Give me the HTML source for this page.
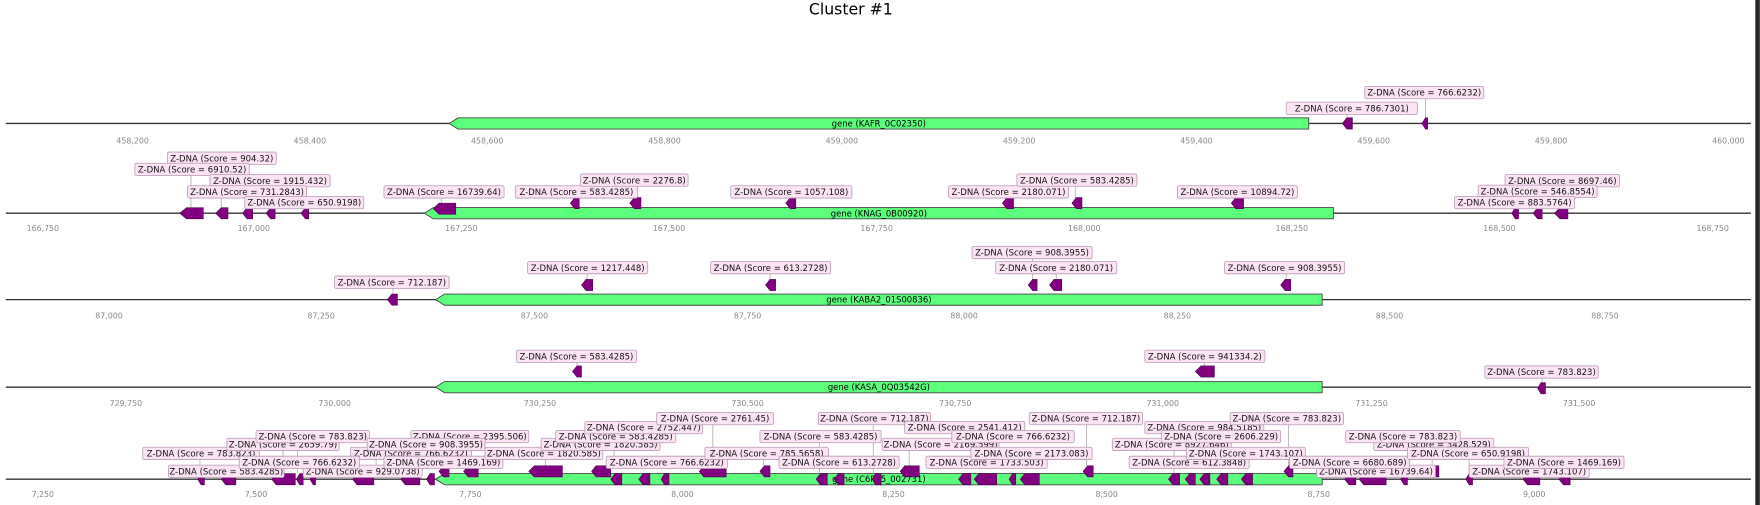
<!DOCTYPE html>
<html><head><meta charset="utf-8"><style>
html,body{margin:0;padding:0;background:#fff;overflow:hidden}
svg{display:block}
.ln{stroke:#333;stroke-width:1.2}
.g{fill:#5cff7c;stroke:#444;stroke-width:0.8}
.gt{font:7.5px "DejaVu Sans","Liberation Sans",sans-serif;fill:#000;text-anchor:middle}
.f{fill:#800080;stroke:#4a004a;stroke-width:0.5}
.lb rect{fill:#fce4f5;stroke:#b59ab5;stroke-width:0.7;transform:translateY(-0.5px);height:11px}
.lb text{font:7.6px "DejaVu Sans","Liberation Sans",sans-serif;fill:#111;text-anchor:middle}
.tk text{font:7px "DejaVu Sans","Liberation Sans",sans-serif;fill:#888;text-anchor:middle}
.c{stroke:#aaa;stroke-width:0.7}
</style></head><body>
<svg width="1760" height="505" viewBox="0 0 1568 450" xmlns="http://www.w3.org/2000/svg">
<rect x="1564" y="0" width="4" height="450" fill="#222"/>
<text x="758" y="13" style="font:14px 'DejaVu Sans','Liberation Sans',sans-serif;text-anchor:middle" fill="#000">Cluster #1</text>

<!-- Track 1 -->
<line class="ln" x1="5" y1="110" x2="1560" y2="110"/>
<polygon class="g" points="400,110 408,105 1166,105 1166,115 408,115"/>
<text class="gt" x="783" y="112.7">gene (KAFR_0C02350)</text>
<g class="tk">
<text x="118" y="128">458,200</text><text x="276" y="128">458,400</text><text x="434" y="128">458,600</text><text x="592" y="128">458,800</text><text x="750" y="128">459,000</text><text x="908" y="128">459,200</text><text x="1066" y="128">459,400</text><text x="1224" y="128">459,600</text><text x="1382" y="128">459,800</text><text x="1540" y="128">460,000</text>
</g>
<line class="c" x1="1200" y1="102" x2="1200" y2="105"/><line class="c" x1="1270" y1="88" x2="1270" y2="105"/>
<polygon class="f" points="1196,110 1200,105 1205,105 1205,115 1200,115"/>
<polygon class="f" points="1267,110 1270,105 1272,105 1272,115 1270,115"/>
<g class="lb">
<rect x="1146" y="91.5" width="117" height="10" rx="1.5"/><text x="1204.5" y="99.3">Z-DNA (Score = 786.7301)</text>
<rect x="1216" y="77.5" width="106" height="10" rx="1.5"/><text x="1269" y="85.3">Z-DNA (Score = 766.6232)</text>
</g>

<!-- Track 2 -->
<line class="ln" x1="5" y1="190" x2="1560" y2="190"/>
<polygon class="g" points="378,190 386,185 1188,185 1188,195 386,195"/>
<text class="gt" x="783" y="192.7">gene (KNAG_0B00920)</text>
<g class="tk">
<text x="38" y="206">166,750</text><text x="226" y="206">167,000</text><text x="411" y="206">167,250</text><text x="596" y="206">167,500</text><text x="781" y="206">167,750</text><text x="966" y="206">168,000</text><text x="1151" y="206">168,250</text><text x="1336" y="206">168,500</text><text x="1526" y="206">168,750</text>
</g>
<line class="c" x1="170" y1="151" x2="170" y2="185"/><line class="c" x1="197" y1="176" x2="197" y2="185"/><line class="c" x1="393" y1="176" x2="393" y2="185"/><line class="c" x1="565" y1="166" x2="565" y2="185"/><line class="c" x1="958" y1="166" x2="958" y2="185"/>
<polygon class="f" points="160,190 166,185 181,185 181,195 166,195"/>
<polygon class="f" points="192,190 197,185 203,185 203,195 197,195"/>
<polygon class="f" points="216,190 220,185 225,185 225,195 220,195"/>
<polygon class="f" points="237,190 241,185 245,185 245,195 241,195"/>
<polygon class="f" points="268,190 272,185 275,185 275,195 272,195"/>
<polygon class="f" points="386,186 391,181 406,181 406,191 391,191"/>
<polygon class="f" points="508,181 512,176 516,176 516,186 512,186"/>
<polygon class="f" points="561,181 565,176 571,176 571,186 565,186"/>
<polygon class="f" points="700,181 704,176 709,176 709,186 704,186"/>
<polygon class="f" points="893,181 897,176 903,176 903,186 897,186"/>
<polygon class="f" points="955,181 959,176 964,176 964,186 959,186"/>
<polygon class="f" points="1097,181 1101,176 1108,176 1108,186 1101,186"/>
<polygon class="f" points="1347,190 1350,185 1353,185 1353,195 1350,195"/>
<polygon class="f" points="1366,190 1370,185 1374,185 1374,195 1370,195"/>
<polygon class="f" points="1385,190 1390,185 1397,185 1397,195 1390,195"/>
<g class="lb">
<rect x="149" y="136" width="97" height="10" rx="1.5"/><text x="197.5" y="143.8">Z-DNA (Score = 904.32)</text>
<rect x="120" y="146" width="102" height="10" rx="1.5"/><text x="171" y="153.8">Z-DNA (Score = 6910.52)</text>
<rect x="187" y="156" width="107" height="10" rx="1.5"/><text x="240.5" y="163.8">Z-DNA (Score = 1915.432)</text>
<rect x="167" y="166" width="106" height="10" rx="1.5"/><text x="220" y="173.8">Z-DNA (Score = 731.2843)</text>
<rect x="218" y="175.5" width="106" height="10" rx="1.5"/><text x="271" y="183.3">Z-DNA (Score = 650.9198)</text>
<rect x="342" y="166" width="107" height="10" rx="1.5"/><text x="395.5" y="173.8">Z-DNA (Score = 16739.64)</text>
<rect x="459" y="166" width="109" height="10" rx="1.5"/><text x="513.5" y="173.8">Z-DNA (Score = 583.4285)</text>
<rect x="517" y="155.5" width="96" height="10" rx="1.5"/><text x="565" y="163.3">Z-DNA (Score = 2276.8)</text>
<rect x="651" y="166" width="108" height="10" rx="1.5"/><text x="705" y="173.8">Z-DNA (Score = 1057.108)</text>
<rect x="845" y="166" width="107" height="10" rx="1.5"/><text x="898.5" y="173.8">Z-DNA (Score = 2180.071)</text>
<rect x="906" y="155.5" width="107" height="10" rx="1.5"/><text x="959.5" y="163.3">Z-DNA (Score = 583.4285)</text>
<rect x="1049" y="166" width="107" height="10" rx="1.5"/><text x="1102.5" y="173.8">Z-DNA (Score = 10894.72)</text>
<rect x="1341" y="156" width="102" height="10" rx="1.5"/><text x="1392" y="163.8">Z-DNA (Score = 8697.46)</text>
<rect x="1317" y="165.5" width="106" height="10" rx="1.5"/><text x="1370" y="173.3">Z-DNA (Score = 546.8554)</text>
<rect x="1296" y="175.5" width="107" height="10" rx="1.5"/><text x="1349.5" y="183.3">Z-DNA (Score = 883.5764)</text>
</g>

<!-- Track 3 -->
<line class="ln" x1="5" y1="267" x2="1560" y2="267"/>
<polygon class="g" points="388,267 396,262 1178,262 1178,272 396,272"/>
<text class="gt" x="783" y="269.7">gene (KABA2_01S00836)</text>
<g class="tk">
<text x="97" y="284">87,000</text><text x="286" y="284">87,250</text><text x="476" y="284">87,500</text><text x="666" y="284">87,750</text><text x="859" y="284">88,000</text><text x="1049" y="284">88,250</text><text x="1238" y="284">88,500</text><text x="1430" y="284">88,750</text>
</g>
<line class="c" x1="350" y1="257" x2="350" y2="262"/><line class="c" x1="523" y1="244" x2="523" y2="249"/><line class="c" x1="686" y1="244" x2="686" y2="249"/><line class="c" x1="920" y1="230" x2="920" y2="249"/><line class="c" x1="941" y1="244" x2="941" y2="249"/><line class="c" x1="1146" y1="244" x2="1146" y2="249"/>
<polygon class="f" points="345,267 349,262 354,262 354,272 349,272"/>
<polygon class="f" points="518,254 522,249 528,249 528,259 522,259"/>
<polygon class="f" points="682,254 686,249 691,249 691,259 686,259"/>
<polygon class="f" points="916,254 920,249 924,249 924,259 920,259"/>
<polygon class="f" points="935,254 939,249 946,249 946,259 939,259"/>
<polygon class="f" points="1141,254 1145,249 1150,249 1150,259 1145,259"/>
<g class="lb">
<rect x="298" y="246.5" width="102" height="10" rx="1.5"/><text x="349" y="254.3">Z-DNA (Score = 712.187)</text>
<rect x="470" y="233.5" width="107" height="10" rx="1.5"/><text x="523.5" y="241.3">Z-DNA (Score = 1217.448)</text>
<rect x="633" y="233.5" width="107" height="10" rx="1.5"/><text x="686.5" y="241.3">Z-DNA (Score = 613.2728)</text>
<rect x="866" y="220" width="107" height="10" rx="1.5"/><text x="919.5" y="227.8">Z-DNA (Score = 908.3955)</text>
<rect x="887" y="233.5" width="108" height="10" rx="1.5"/><text x="941" y="241.3">Z-DNA (Score = 2180.071)</text>
<rect x="1091" y="233.5" width="107" height="10" rx="1.5"/><text x="1144.5" y="241.3">Z-DNA (Score = 908.3955)</text>
</g>

<!-- Track 4 -->
<line class="ln" x1="5" y1="345" x2="1560" y2="345"/>
<polygon class="g" points="388,345 396,340 1178,340 1178,350 396,350"/>
<text class="gt" x="783" y="347.7">gene (KASA_0Q03542G)</text>
<g class="tk">
<text x="112" y="362">729,750</text><text x="298" y="362">730,000</text><text x="481" y="362">730,250</text><text x="666" y="362">730,500</text><text x="851" y="362">730,750</text><text x="1036" y="362">731,000</text><text x="1222" y="362">731,250</text><text x="1407" y="362">731,500</text>
</g>
<line class="c" x1="514" y1="323" x2="514" y2="326"/><line class="c" x1="1073" y1="323" x2="1073" y2="326"/><line class="c" x1="1374" y1="337" x2="1374" y2="340"/>
<polygon class="f" points="510,331 514,326 518,326 518,336 514,336"/>
<polygon class="f" points="1065,331 1070,326 1082,326 1082,336 1070,336"/>
<polygon class="f" points="1370,346 1373,341 1377,341 1377,351 1373,351"/>
<g class="lb">
<rect x="460" y="312.5" width="107" height="10" rx="1.5"/><text x="513.5" y="320.3">Z-DNA (Score = 583.4285)</text>
<rect x="1020" y="312.5" width="107" height="10" rx="1.5"/><text x="1073.5" y="320.3">Z-DNA (Score = 941334.2)</text>
<rect x="1323" y="326.5" width="101" height="10" rx="1.5"/><text x="1373.5" y="334.3">Z-DNA (Score = 783.823)</text>
</g>

<!-- Track 5 -->
<line class="ln" x1="5" y1="427" x2="1560" y2="427"/>
<polygon class="g" points="388,427 396,422 1178,422 1178,432 396,432"/>
<text class="gt" x="783" y="429.7">gene (C6P45_002731)</text>
<g class="tk">
<text x="38" y="443">7,250</text><text x="228" y="443">7,500</text><text x="419" y="443">7,750</text><text x="608" y="443">8,000</text><text x="796" y="443">8,250</text><text x="986" y="443">8,500</text><text x="1175" y="443">8,750</text><text x="1367" y="443">9,000</text>
</g>
<g class="c">
<line x1="178" y1="409" x2="178" y2="422"/><line x1="252" y1="394" x2="252" y2="422"/><line x1="265" y1="401" x2="265" y2="422"/><line x1="335" y1="409" x2="335" y2="422"/><line x1="365" y1="409" x2="365" y2="422"/><line x1="418" y1="394" x2="418" y2="415"/><line x1="486" y1="401" x2="486" y2="415"/><line x1="547" y1="386" x2="547" y2="415"/><line x1="635" y1="378" x2="635" y2="415"/><line x1="680" y1="409" x2="680" y2="415"/><line x1="730" y1="394" x2="730" y2="422"/><line x1="778" y1="378" x2="778" y2="422"/><line x1="810" y1="401" x2="810" y2="415"/><line x1="968" y1="378" x2="968" y2="415"/><line x1="1046" y1="401" x2="1046" y2="422"/><line x1="1148" y1="378" x2="1148" y2="415"/><line x1="1276" y1="409" x2="1276" y2="415"/><line x1="1309" y1="409" x2="1309" y2="422"/>
</g>
<polygon class="f" points="176,427 179,422 182,422 182,432 179,432"/>
<polygon class="f" points="197,427 201,422 210,422 210,432 201,432"/>
<polygon class="f" points="242,427 246,422 263,422 263,432 246,432"/>
<polygon class="f" points="264,427 267,422 270,422 270,432 267,432"/>
<polygon class="f" points="276,427 279,422 281,422 281,432 279,432"/>
<polygon class="f" points="314,427 318,422 333,422 333,432 318,432"/>
<polygon class="f" points="357,427 361,422 374,422 374,432 361,432"/>
<polygon class="f" points="380,427 383,422 387,422 387,432 383,432"/>
<polygon class="f" points="391,420 395,415 400,415 400,425 395,425"/>
<polygon class="f" points="413,420 417,415 426,415 426,425 417,425"/>
<polygon class="f" points="471,420 476,415 501,415 501,425 476,425"/>
<polygon class="f" points="527,420 531,415 544,415 544,425 531,425"/>
<polygon class="f" points="544,427 548,422 554,422 554,432 548,432"/>
<polygon class="f" points="569,427 573,422 579,422 579,432 573,432"/>
<polygon class="f" points="589,427 592,422 596,422 596,432 592,432"/>
<polygon class="f" points="623,420 627,415 647,415 647,425 627,425"/>
<polygon class="f" points="677,420 681,415 686,415 686,425 681,425"/>
<polygon class="f" points="727,427 731,422 737,422 737,432 731,432"/>
<polygon class="f" points="743,427 747,422 752,422 752,432 747,432"/>
<polygon class="f" points="777,427 780,422 785,422 785,432 780,432"/>
<polygon class="f" points="802,420 806,415 819,415 819,425 806,425"/>
<polygon class="f" points="854,427 858,422 865,422 865,432 858,432"/>
<polygon class="f" points="868,427 872,422 888,422 888,432 872,432"/>
<polygon class="f" points="899,427 902,422 905,422 905,432 902,432"/>
<polygon class="f" points="909,427 913,422 926,422 926,432 913,432"/>
<polygon class="f" points="965,420 969,415 974,415 974,425 969,425"/>
<polygon class="f" points="1041,427 1045,422 1051,422 1051,432 1045,432"/>
<polygon class="f" points="1056,427 1060,422 1065,422 1065,432 1060,432"/>
<polygon class="f" points="1069,427 1073,422 1078,422 1078,432 1073,432"/>
<polygon class="f" points="1084,427 1088,422 1094,422 1094,432 1088,432"/>
<polygon class="f" points="1106,427 1110,422 1116,422 1116,432 1110,432"/>
<polygon class="f" points="1144,420 1148,415 1152,415 1152,425 1148,425"/>
<polygon class="f" points="1198,427 1202,422 1208,422 1208,432 1202,432"/>
<polygon class="f" points="1211,427 1215,422 1235,422 1235,432 1215,432"/>
<polygon class="f" points="1248,427 1251,422 1254,422 1254,432 1251,432"/>
<polygon class="f" points="1273,420 1277,415 1282,415 1282,425 1277,425"/>
<polygon class="f" points="1306,427 1309,422 1312,422 1312,432 1309,432"/>
<polygon class="f" points="1357,427 1361,422 1372,422 1372,432 1361,432"/>
<polygon class="f" points="1389,427 1393,422 1399,422 1399,432 1393,432"/>
<g class="lb">
<rect x="127" y="399" width="104" height="10" rx="1.5"/><text x="179" y="406.8">Z-DNA (Score = 783.823)</text>
<rect x="150" y="415" width="103" height="10" rx="1.5"/><text x="201.5" y="422.8">Z-DNA (Score = 583.4285)</text>
<rect x="202" y="391" width="100" height="10" rx="1.5"/><text x="252" y="398.8">Z-DNA (Score = 2659.79)</text>
<rect x="228" y="384" width="101" height="10" rx="1.5"/><text x="278.5" y="391.8">Z-DNA (Score = 783.823)</text>
<rect x="270" y="415" width="106" height="10" rx="1.5"/><text x="323" y="422.8">Z-DNA (Score = 929.0738)</text>
<rect x="312" y="399" width="108" height="10" rx="1.5"/><text x="366" y="406.8">Z-DNA (Score = 766.6232)</text>
<rect x="213" y="407" width="107" height="10" rx="1.5"/><text x="266.5" y="414.8">Z-DNA (Score = 766.6232)</text>
<rect x="366" y="384" width="105" height="10" rx="1.5"/><text x="418.5" y="391.8">Z-DNA (Score = 2395.506)</text>
<rect x="327" y="391" width="105" height="10" rx="1.5"/><text x="379.5" y="398.8">Z-DNA (Score = 908.3955)</text>
<rect x="342" y="407" width="106" height="10" rx="1.5"/><text x="395" y="414.8">Z-DNA (Score = 1469.169)</text>
<rect x="432" y="399" width="105" height="10" rx="1.5"/><text x="484.5" y="406.8">Z-DNA (Score = 1820.585)</text>
<rect x="482" y="391" width="106" height="10" rx="1.5"/><text x="535" y="398.8">Z-DNA (Score = 1820.585)</text>
<rect x="495" y="384" width="107" height="10" rx="1.5"/><text x="548.5" y="391.8">Z-DNA (Score = 583.4285)</text>
<rect x="521" y="376" width="105" height="10" rx="1.5"/><text x="573.5" y="383.8">Z-DNA (Score = 2752.447)</text>
<rect x="585" y="368" width="104" height="10" rx="1.5"/><text x="637" y="375.8">Z-DNA (Score = 2761.45)</text>
<rect x="540" y="407" width="108" height="10" rx="1.5"/><text x="594" y="414.8">Z-DNA (Score = 766.6232)</text>
<rect x="628" y="399" width="110" height="10" rx="1.5"/><text x="683" y="406.8">Z-DNA (Score = 785.5658)</text>
<rect x="677" y="384" width="108" height="10" rx="1.5"/><text x="731" y="391.8">Z-DNA (Score = 583.4285)</text>
<rect x="694" y="407" width="107" height="10" rx="1.5"/><text x="747.5" y="414.8">Z-DNA (Score = 613.2728)</text>
<rect x="729" y="368" width="100" height="10" rx="1.5"/><text x="779" y="375.8">Z-DNA (Score = 712.187)</text>
<rect x="806" y="376" width="107" height="10" rx="1.5"/><text x="859.5" y="383.8">Z-DNA (Score = 2541.412)</text>
<rect x="786" y="391" width="104" height="10" rx="1.5"/><text x="838" y="398.8">Z-DNA (Score = 2169.599)</text>
<rect x="848" y="384" width="109" height="10" rx="1.5"/><text x="902.5" y="391.8">Z-DNA (Score = 766.6232)</text>
<rect x="825" y="407" width="108" height="10" rx="1.5"/><text x="879" y="414.8">Z-DNA (Score = 1733.503)</text>
<rect x="865" y="399" width="108" height="10" rx="1.5"/><text x="919" y="406.8">Z-DNA (Score = 2173.083)</text>
<rect x="917" y="368" width="101" height="10" rx="1.5"/><text x="967.5" y="375.8">Z-DNA (Score = 712.187)</text>
<rect x="1020" y="376" width="106" height="10" rx="1.5"/><text x="1073" y="383.8">Z-DNA (Score = 984.5185)</text>
<rect x="991" y="391" width="106" height="10" rx="1.5"/><text x="1044" y="398.8">Z-DNA (Score = 8927.646)</text>
<rect x="1035" y="384" width="106" height="10" rx="1.5"/><text x="1088" y="391.8">Z-DNA (Score = 2606.229)</text>
<rect x="1006" y="407" width="107" height="10" rx="1.5"/><text x="1059.5" y="414.8">Z-DNA (Score = 612.3848)</text>
<rect x="1057" y="399" width="106" height="10" rx="1.5"/><text x="1110" y="406.8">Z-DNA (Score = 1743.107)</text>
<rect x="1096" y="368" width="101" height="10" rx="1.5"/><text x="1146.5" y="375.8">Z-DNA (Score = 783.823)</text>
<rect x="1173" y="415" width="106" height="10" rx="1.5"/><text x="1226" y="422.8">Z-DNA (Score = 16739.64)</text>
<rect x="1149" y="407" width="107" height="10" rx="1.5"/><text x="1202.5" y="414.8">Z-DNA (Score = 6680.689)</text>
<rect x="1224" y="391" width="107" height="10" rx="1.5"/><text x="1277.5" y="398.8">Z-DNA (Score = 3428.529)</text>
<rect x="1199" y="384" width="102" height="10" rx="1.5"/><text x="1250" y="391.8">Z-DNA (Score = 783.823)</text>
<rect x="1254" y="399" width="108" height="10" rx="1.5"/><text x="1308" y="406.8">Z-DNA (Score = 650.9198)</text>
<rect x="1309" y="415" width="107" height="10" rx="1.5"/><text x="1362.5" y="422.8">Z-DNA (Score = 1743.107)</text>
<rect x="1340" y="407" width="107" height="10" rx="1.5"/><text x="1393.5" y="414.8">Z-DNA (Score = 1469.169)</text>
</g>
</svg>
</body></html>
